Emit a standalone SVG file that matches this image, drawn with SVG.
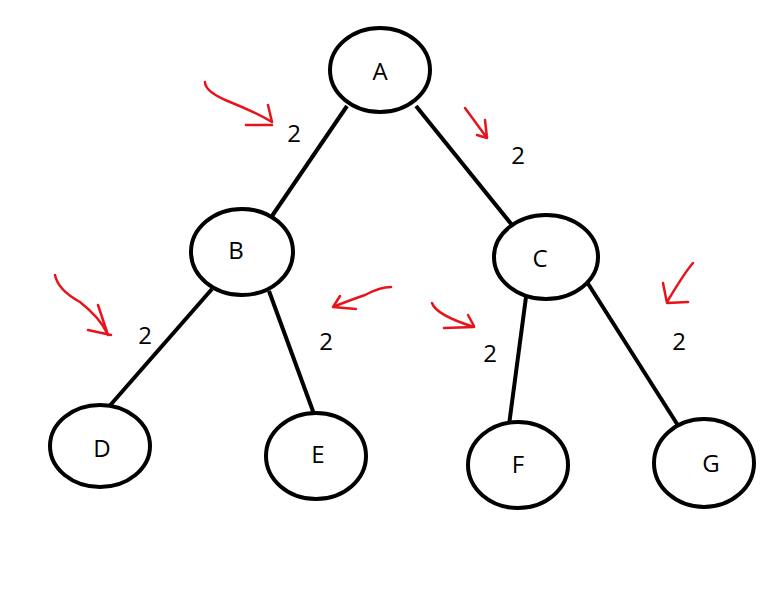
<svg xmlns="http://www.w3.org/2000/svg" width="780" height="590" viewBox="0 0 780 590">
<style>
.n{fill:#fff;stroke:#000;stroke-width:4}
.t{font-family:"Open Sans","Liberation Sans",sans-serif;font-size:24px;text-anchor:middle;dominant-baseline:central}
.e{stroke:#000;stroke-width:4;fill:none}
.r{stroke:#e8141c;stroke-width:2.5;fill:none;stroke-linecap:round;stroke-linejoin:round}
</style>
<rect width="780" height="590" fill="#fff"/>
<g id="connectors">
<line class="e" x1="347" y1="106" x2="272" y2="216"/>
<line class="e" x1="416" y1="106" x2="512" y2="225"/>
<line class="e" x1="212" y1="289" x2="106" y2="410"/>
<line class="e" x1="269" y1="291" x2="314" y2="414"/>
<line class="e" x1="526" y1="297" x2="509" y2="425"/>
<line class="e" x1="587" y1="282" x2="679" y2="427"/>
</g>
<g id="A"><ellipse class="n" cx="380" cy="70" rx="50" ry="42"/><text class="t" x="380" y="70">A</text></g>
<g id="B"><ellipse class="n" cx="242" cy="252" rx="51" ry="43"/><text class="t" x="236" y="249">B</text></g>
<g id="C"><ellipse class="n" cx="546" cy="257" rx="52" ry="42"/><text class="t" x="540" y="257">C</text></g>
<g id="D"><ellipse class="n" cx="100" cy="446" rx="50" ry="41"/><text class="t" x="102" y="447">D</text></g>
<g id="E"><ellipse class="n" cx="316" cy="456" rx="50" ry="43"/><text class="t" x="318" y="453">E</text></g>
<g id="F"><ellipse class="n" cx="518" cy="465" rx="50" ry="43"/><text class="t" x="518" y="463">F</text></g>
<g id="G"><ellipse class="n" cx="704" cy="463" rx="50" ry="44"/><text class="t" x="711" y="462">G</text></g>
<g id="labels">
<text class="t" x="294" y="132">2</text>
<text class="t" x="518" y="154">2</text>
<text class="t" x="145" y="334">2</text>
<text class="t" x="326" y="340">2</text>
<text class="t" x="490" y="352">2</text>
<text class="t" x="679" y="340">2</text>
</g>
<g id="annotations">
<path class="r" d="M205,82 Q205,92 230,102 Q255,112 272,122 M268,105 L272,122 M246,125 L272,125"/>
<path class="r" d="M465,108 L487,138 M485,120 L487,138 M477,135 L487,138"/>
<path class="r" d="M55,275 Q58,290 80,302 Q100,318 107,333 M98,305 L108,335 M88,330 L111,335"/>
<path class="r" d="M391,287 Q380,287 365,295 Q345,302 333,307 M340,296 L333,307 L356,309"/>
<path class="r" d="M432,303 Q436,315 474,327 M468,315 L474,326 M444,328 L474,327"/>
<path class="r" d="M693,263 Q685,272 667,302 M663,283 L667,303 L688,302"/>
</g>
</svg>
